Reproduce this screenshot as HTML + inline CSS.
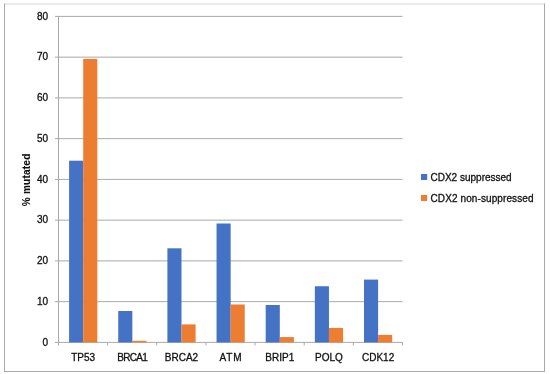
<!DOCTYPE html>
<html><head><meta charset="utf-8">
<style>
html,body{margin:0;padding:0;background:#fff;width:550px;height:374px;overflow:hidden}
svg{display:block}
text{font-family:"Liberation Sans",Arial,sans-serif;font-size:10px;fill:#111;stroke:#111;stroke-width:0.3px}
</style></head><body>
<svg width="550" height="374" viewBox="0 0 550 374">
<rect x="0" y="0" width="550" height="374" fill="#fff"/>
<!-- chart border -->
<line x1="4" y1="4" x2="545" y2="4" stroke="#d6d6d6" stroke-width="1"/>
<line x1="4.5" y1="3.5" x2="4.5" y2="372" stroke="#a8a8a8" stroke-width="1"/>
<line x1="544.5" y1="3.5" x2="544.5" y2="372" stroke="#a8a8a8" stroke-width="1"/>
<line x1="4" y1="371.5" x2="545" y2="371.5" stroke="#a8a8a8" stroke-width="1"/>
<!-- gridlines -->
<g stroke="#a9a9a9" stroke-width="1">
<line x1="55" y1="16.4" x2="402.5" y2="16.4"/>
<line x1="55" y1="57.15" x2="402.5" y2="57.15"/>
<line x1="55" y1="97.9" x2="402.5" y2="97.9"/>
<line x1="55" y1="138.65" x2="402.5" y2="138.65"/>
<line x1="55" y1="179.4" x2="402.5" y2="179.4"/>
<line x1="55" y1="220.15" x2="402.5" y2="220.15"/>
<line x1="55" y1="260.9" x2="402.5" y2="260.9"/>
<line x1="55" y1="301.65" x2="402.5" y2="301.65"/>
<line x1="55" y1="342.4" x2="402.5" y2="342.4"/>
<!-- vertical axis -->
<line x1="58.5" y1="16" x2="58.5" y2="345.5"/>
<!-- category ticks -->
<line x1="107.6" y1="342" x2="107.6" y2="345.5"/>
<line x1="156.7" y1="342" x2="156.7" y2="345.5"/>
<line x1="205.9" y1="342" x2="205.9" y2="345.5"/>
<line x1="255" y1="342" x2="255" y2="345.5"/>
<line x1="304.2" y1="342" x2="304.2" y2="345.5"/>
<line x1="353.3" y1="342" x2="353.3" y2="345.5"/>
<line x1="402.4" y1="342" x2="402.4" y2="345.5"/>
</g>
<!-- bars -->
<g fill="#4472c4">
<rect x="69.1" y="160.7" width="14.1" height="181.7"/>
<rect x="118.25" y="311" width="14.1" height="31.4"/>
<rect x="167.4" y="248.3" width="14.1" height="94.1"/>
<rect x="216.55" y="223.5" width="14.1" height="118.9"/>
<rect x="265.7" y="305" width="14.1" height="37.4"/>
<rect x="314.85" y="286.25" width="14.1" height="56.15"/>
<rect x="364" y="279.6" width="14.1" height="62.8"/>
</g>
<g fill="#ed7d31">
<rect x="83.2" y="58.9" width="14.1" height="283.5"/>
<rect x="132.35" y="340.8" width="14.1" height="1.6"/>
<rect x="181.5" y="324.4" width="14.1" height="18"/>
<rect x="230.65" y="304.5" width="14.1" height="37.9"/>
<rect x="279.8" y="337.1" width="14.1" height="5.3"/>
<rect x="328.95" y="327.9" width="14.1" height="14.5"/>
<rect x="378.1" y="334.9" width="14.1" height="7.5"/>
</g>
<!-- y labels -->
<g text-anchor="end" style="font-size:10.5px">
<text x="48" y="19.5">80</text>
<text x="48" y="60.25">70</text>
<text x="48" y="101">60</text>
<text x="48" y="141.75">50</text>
<text x="48" y="182.5">40</text>
<text x="48" y="223.25">30</text>
<text x="48" y="264">20</text>
<text x="48" y="304.75">10</text>
<text x="48" y="345.5">0</text>
</g>
<!-- x labels -->
<g text-anchor="middle">
<text x="83.2" y="360.5">TP53</text>
<text x="132.5" y="360.5" textLength="30.5" lengthAdjust="spacing">BRCA1</text>
<text x="181.5" y="360.5">BRCA2</text>
<text x="230.6" y="360.5" textLength="22" lengthAdjust="spacing">ATM</text>
<text x="279.8" y="360.5">BRIP1</text>
<text x="328.9" y="360.5">POLQ</text>
<text x="378.1" y="360.5">CDK12</text>
</g>
<!-- axis title -->
<text transform="translate(30,180) rotate(-90)" text-anchor="middle" font-weight="bold" style="stroke-width:0.1px" textLength="52.5" lengthAdjust="spacing">% mutated</text>
<!-- legend -->
<rect x="421" y="174" width="6.2" height="6" fill="#4472c4"/>
<rect x="421" y="195" width="6.2" height="6" fill="#ed7d31"/>
<text x="430.5" y="181">CDX2 suppressed</text>
<text x="430.5" y="202" textLength="103" lengthAdjust="spacing">CDX2 non-suppressed</text>
</svg>
</body></html>
